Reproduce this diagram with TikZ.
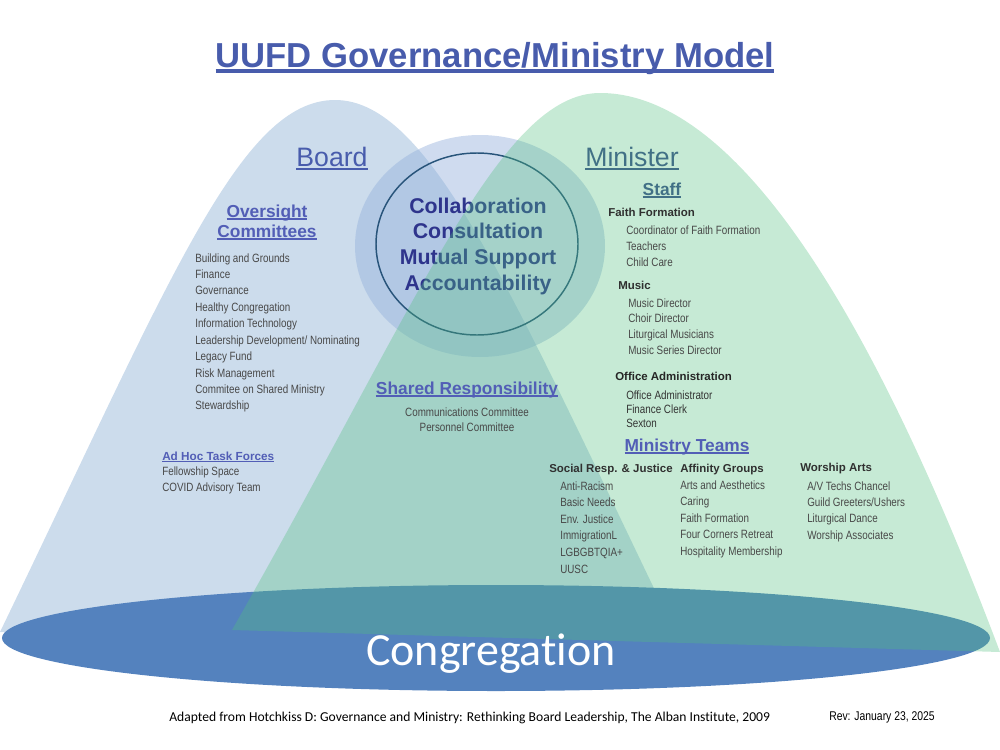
\documentclass[tikz,border=0pt]{standalone}
\usepackage{fontspec}
\setmainfont{Liberation Sans}
\newfontfamily\narrowfont[FakeStretch=0.82]{Liberation Sans}
\newfontfamily\calfont[Ligatures=NoCommon]{Carlito}
\usepackage{tikz}
\usetikzlibrary{positioning}
\definecolor{boardblue}{RGB}{204,220,236}
\definecolor{ministergreen}{RGB}{81,192,126}
\definecolor{diskblue}{RGB}{148,176,220}
\definecolor{congblue}{RGB}{84,130,190}
\definecolor{titleblue}{RGB}{72,92,172}
\definecolor{headblue}{RGB}{82,94,182}
\definecolor{centerblue}{RGB}{46,52,140}
\definecolor{ringblue}{RGB}{40,84,122}
\definecolor{itemgray}{RGB}{72,72,72}
\definecolor{groupgray}{RGB}{48,48,48}
\newcommand\uln[2][0.09em]{{\setbox0\hbox{#2}\rlap{\rule[-0.16em]{\wd0}{#1}}\box0}}
\tikzset{
  figtitle/.style={font=\bfseries\fontsize{26}{26}\selectfont, text=titleblue, inner sep=0pt, anchor=base},
  fighead/.style={font=\fontsize{20}{20}\selectfont, text=titleblue, inner sep=0pt, anchor=base},
  figsub/.style={font=\bfseries\fontsize{13}{13}\selectfont, text=headblue, inner sep=0pt, anchor=base},
  figgroup/.style={font=\bfseries\fontsize{8.6}{8.6}\selectfont, text=groupgray, inner sep=0pt, anchor=base west},
  figitem/.style={font=\narrowfont\fontsize{9}{9}\selectfont, text=itemgray, inner sep=0pt, anchor=base west},
  figcenter/.style={font=\bfseries\fontsize{16}{16}\selectfont, text=centerblue, inner sep=0pt, anchor=base},
}

\begin{document}
\begin{tikzpicture}[x=0.75pt, y=-0.75pt]
  \useasboundingbox (0,0) rectangle (1000,750);
  % Board
  \fill[boardblue] (0,632) .. controls (170,280) and (240,100) .. (335,100)
    .. controls (430,100) and (510,290) .. (675,632) -- cycle;
  \fill[diskblue, opacity=0.45] (480,246) ellipse [x radius=125, y radius=111];
  \draw[ringblue, line width=1.1pt] (477,244) ellipse [x radius=101, y radius=91];
  \fill[congblue] (496,638) ellipse [x radius=494, y radius=53];
  \foreach \t [count=\i from 0] in {Collaboration,Consultation,Mutual Support,Accountability}
    \node[figcenter] (mid\i) at (478,213+\i*25.7) {\t};
  \node[figtitle] (title) at (495,67) {\uln[0.11em]{UUFD Governance/Ministry Model}};
  \node[fighead] (board) at (332,166) {\uln[0.07em]{Board}};
  \node[fighead, text=titleblue!80!black] (minister) at (632,166) {\uln[0.07em]{Minister}};
  \node[figsub, text=titleblue!80!black] (staff) at (662,195) {\uln{Staff}};
  % Minister
  \fill[ministergreen, opacity=0.33] (232,630) .. controls (420,300) and (500,93) .. (600,93)
    .. controls (750,93) and (890,360) .. (1000,652) -- cycle;
  \node[font=\calfont\fontsize{34.5}{34.5}\selectfont, text=white, inner sep=0pt, anchor=base] (cong) at (491,665) {Congregation};

  % Board side
  \node[figsub] (ovs1) at (267,217) {\uln{Oversight}};
  \node[figsub] (ovs2) at (267,237) {\uln{Committees}};
  \foreach \t [count=\i from 0] in {Building and Grounds,Finance,Governance,Healthy Congregation,
      Information Technology,Leadership Development/ Nominating,Legacy Fund,Risk Management,
      Commitee on Shared Ministry,Stewardship}
    \node[figitem] (ov\i) at (195,262+\i*16.44) {\t};
  \node[figsub, font=\bfseries\fontsize{8.8}{8.8}\selectfont, anchor=base west] (adhoc) at (162,460) {\uln{Ad Hoc Task Forces}};
  \node[figitem] (ah0) at (162,475) {Fellowship Space};
  \node[figitem] (ah1) at (162,491) {COVID Advisory Team};

  % shared
  \node[figsub] (shared) at (467,394) {\uln{Shared Responsibility}};
  \node[figitem, anchor=base] (sh0) at (467,416) {Communications Committee};
  \node[figitem, anchor=base] (sh1) at (467,431) {Personnel Committee};

  % Staff
  \node[figgroup] (ff) at (608,216) {Faith Formation};
  \foreach \t [count=\i from 0] in {Coordinator of Faith Formation,Teachers,Child Care}
    \node[figitem] (ff\i) at (626,234+\i*16) {\t};
  \node[figgroup] (mu) at (618,289) {Music};
  \foreach \t [count=\i from 0] in {Music Director,Choir Director,Liturgical Musicians,Music Series Director}
    \node[figitem] (mu\i) at (628,307+\i*15.7) {\t};
  \node[figgroup, text=black!85] (oa) at (615,380) {Office Administration};
  \foreach \t [count=\i from 0] in {Office Administrator,Finance Clerk,Sexton}
    \node[figitem, text=black!80] (oa\i) at (626,399+\i*14) {\t};

  % Ministry teams
  \node[figsub] (teams) at (687,451) {\uln{Ministry Teams}};
  \node[figgroup] (sj) at (549,472) {Social Resp. \& Justice};
  \node[figgroup] (ag) at (680,472) {Affinity Groups};
  \node[figgroup] (wa) at (800,471) {Worship Arts};
  \foreach \t [count=\i from 0] in {Anti-Racism,Basic Needs,Env. Justice,ImmigrationL,LGBGBTQIA+,UUSC}
    \node[figitem] (sj\i) at (560,490+\i*16.6) {\t};
  \foreach \t [count=\i from 0] in {Arts and Aesthetics,Caring,Faith Formation,Four Corners Retreat,Hospitality Membership}
    \node[figitem] (ag\i) at (680,489+\i*16.5) {\t};
  \foreach \t [count=\i from 0] in {A/V Techs Chancel,Guild Greeters/Ushers,Liturgical Dance,Worship Associates}
    \node[figitem] (wa\i) at (807,490+\i*16.4) {\t};

  % footer
  \node[font=\calfont\fontsize{10.2}{10.2}\selectfont, inner sep=0pt, anchor=base west] (src) at (169,721) {Adapted from Hotchkiss D: Governance and Ministry: Rethinking Board Leadership, The Alban Institute, 2009};
  \node[figitem, text=black, font=\narrowfont\fontsize{9.5}{9.5}\selectfont] (rev) at (829,720) {Rev: January 23, 2025};
\end{tikzpicture}
\end{document}
